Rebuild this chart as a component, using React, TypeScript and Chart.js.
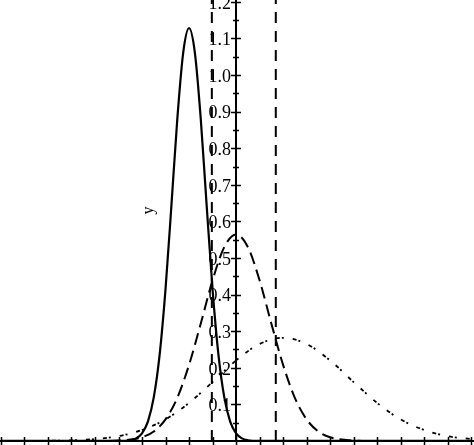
import React, { useEffect, useRef } from "react";
import { Chart, registerables } from "chart.js";

Chart.register(...registerables);

// Solid curve (narrow peak near x = -1)
const solidX = [-5, -2.5, -2.25, -2.125, -2.0, -1.875, -1.75, -1.625, -1.5, -1.375, -1.25, -1.125, -1.0, -0.875, -0.75, -0.625, -0.5, -0.375, -0.25, -0.125, 0, 0.125, 0.25, 0.5, 5];
const solidY = [0, 0, 0.002, 0.007, 0.021, 0.053, 0.119, 0.236, 0.415, 0.643, 0.879, 1.06, 1.128, 1.06, 0.879, 0.643, 0.415, 0.236, 0.119, 0.053, 0.021, 0.007, 0.002, 0, 0];

// Dashed curve (peak at x = 0)
const dashedX = [-5, -3, -2.5, -2.25, -2, -1.75, -1.5, -1.25, -1, -0.75, -0.5, -0.25, 0, 0.25, 0.5, 0.75, 1, 1.25, 1.5, 1.75, 2, 2.25, 2.5, 3, 5];
const dashedY = [0, 0, 0.001, 0.004, 0.01, 0.026, 0.059, 0.118, 0.208, 0.321, 0.439, 0.53, 0.564, 0.53, 0.439, 0.321, 0.208, 0.118, 0.059, 0.026, 0.01, 0.004, 0.001, 0, 0];

// Dash-dot curve (wide peak near x = 1)
const dashDotX = [-5, -4.5, -4, -3.5, -3, -2.5, -2, -1.5, -1, -0.5, 0, 0.5, 1, 1.5, 2, 2.5, 3, 3.5, 4, 4.5, 5];
const dashDotY = [0, 0, 0.0005, 0.0018, 0.0052, 0.013, 0.03, 0.059, 0.104, 0.161, 0.22, 0.265, 0.282, 0.265, 0.22, 0.161, 0.104, 0.059, 0.03, 0.013, 0.0052];

// Vertical dashed reference lines
const vLineX = [-0.515, 0.845];
const vLineY = [0, 1.21];

// Axis ticks
const xTickValues = [-5, -4.5, -4, -3.5, -3, -2.5, -2, -1.5, -1, -0.5, 0, 0.5, 1, 1.5, 2, 2.5, 3, 3.5, 4, 4.5, 5];
const yTickValues = [0.1, 0.2, 0.3, 0.4, 0.5, 0.6, 0.7, 0.8, 0.9, 1.0, 1.1, 1.2];
const yTickLabels = ["0.1", "0.2", "0.3", "0.4", "0.5", "0.6", "0.7", "0.8", "0.9", "1.0", "1.1", "1.2"];
const yMinorValues = [0.05, 0.15, 0.25, 0.35, 0.45, 0.55, 0.65, 0.75, 0.85, 0.95, 1.05, 1.15];
const yAxisTitle = "y";

const SERIF = '"Liberation Serif", "Times New Roman", "DejaVu Serif", serif';

const axesPlugin = {
  id: "centerAxes",
  beforeDatasetsDraw(chart: any) {
    const { ctx, chartArea, scales } = chart;
    const xs = scales.x;
    const ys = scales.y;
    const x0 = Math.round(xs.getPixelForValue(0));
    const y0 = Math.round(ys.getPixelForValue(0));
    ctx.save();
    ctx.strokeStyle = "#000";
    ctx.fillStyle = "#000";
    ctx.lineWidth = 2;
    ctx.beginPath();
    ctx.moveTo(chartArea.left, y0);
    ctx.lineTo(chartArea.right, y0);
    ctx.stroke();
    ctx.beginPath();
    ctx.moveTo(x0, chartArea.top);
    ctx.lineTo(x0, y0);
    ctx.stroke();

    ctx.lineWidth = 1.5;
    ctx.beginPath();
    for (const v of xTickValues) {
      const px = Math.round(xs.getPixelForValue(v)) + 0.5;
      ctx.moveTo(px, y0 - 4);
      ctx.lineTo(px, y0 + 4);
    }
    for (const v of yTickValues) {
      const py = Math.round(ys.getPixelForValue(v)) + 0.5;
      ctx.moveTo(x0 - 5, py);
      ctx.lineTo(x0 + 5, py);
    }
    for (const v of yMinorValues) {
      const py = Math.round(ys.getPixelForValue(v)) + 0.5;
      ctx.moveTo(x0 - 3, py);
      ctx.lineTo(x0 + 3, py);
    }
    ctx.stroke();

    ctx.font = "18px " + SERIF;
    ctx.textAlign = "right";
    ctx.textBaseline = "middle";
    yTickValues.forEach((v, i) => {
      const py = ys.getPixelForValue(v);
      ctx.fillText(yTickLabels[i], x0 - 5, py + 2);
    });

    ctx.save();
    ctx.font = "16px " + SERIF;
    ctx.textAlign = "center";
    ctx.textBaseline = "middle";
    ctx.translate(x0 - 87, ys.getPixelForValue(0.63));
    ctx.rotate(-Math.PI / 2);
    ctx.fillText(yAxisTitle, 0, 0);
    ctx.restore();

    ctx.restore();
  },
};

function pts(xs: number[], ys: number[]) {
  return xs.map((x, i) => ({ x, y: ys[i] }));
}

export default function App() {
  const ref = useRef<HTMLCanvasElement | null>(null);
  useEffect(() => {
    if (!ref.current) return;
    const chart = new Chart(ref.current, {
      type: "scatter",
      data: {
        datasets: [
          {
            data: pts([vLineX[0], vLineX[0]], vLineY),
            showLine: true,
            borderColor: "#000",
            borderWidth: 2,
            borderDash: [11, 8],
            pointRadius: 0,
          },
          {
            data: pts([vLineX[1], vLineX[1]], vLineY),
            showLine: true,
            borderColor: "#000",
            borderWidth: 2,
            borderDash: [11, 8],
            pointRadius: 0,
          },
          {
            data: pts(dashDotX, dashDotY),
            showLine: true,
            borderColor: "#000",
            borderWidth: 1.8,
            borderDash: [4, 2, 2, 9],
            pointRadius: 0,
            cubicInterpolationMode: "monotone",
          },
          {
            data: pts(dashedX, dashedY),
            showLine: true,
            borderColor: "#000",
            borderWidth: 2,
            borderDash: [12, 6],
            pointRadius: 0,
            cubicInterpolationMode: "monotone",
          },
          {
            data: pts(solidX, solidY),
            showLine: true,
            borderColor: "#000",
            borderWidth: 2.2,
            pointRadius: 0,
            cubicInterpolationMode: "monotone",
          },
        ],
      },
      options: {
        responsive: false,
        animation: false,
        devicePixelRatio: 1,
        layout: { padding: 0 },
        plugins: { legend: { display: false }, tooltip: { enabled: false } },
        events: [],
        scales: {
          x: { type: "linear", min: -5.02, max: 5.06, display: false },
          y: { type: "linear", min: -0.011, max: 1.205, display: false },
        },
      },
      plugins: [axesPlugin],
    } as any);
    return () => chart.destroy();
  }, []);
  return (
    <div style={{ position: "absolute", left: 0, top: 0, width: 474, height: 445, background: "#fff" }}>
      <canvas ref={ref} width={474} height={445} style={{ display: "block" }} />
    </div>
  );
}
